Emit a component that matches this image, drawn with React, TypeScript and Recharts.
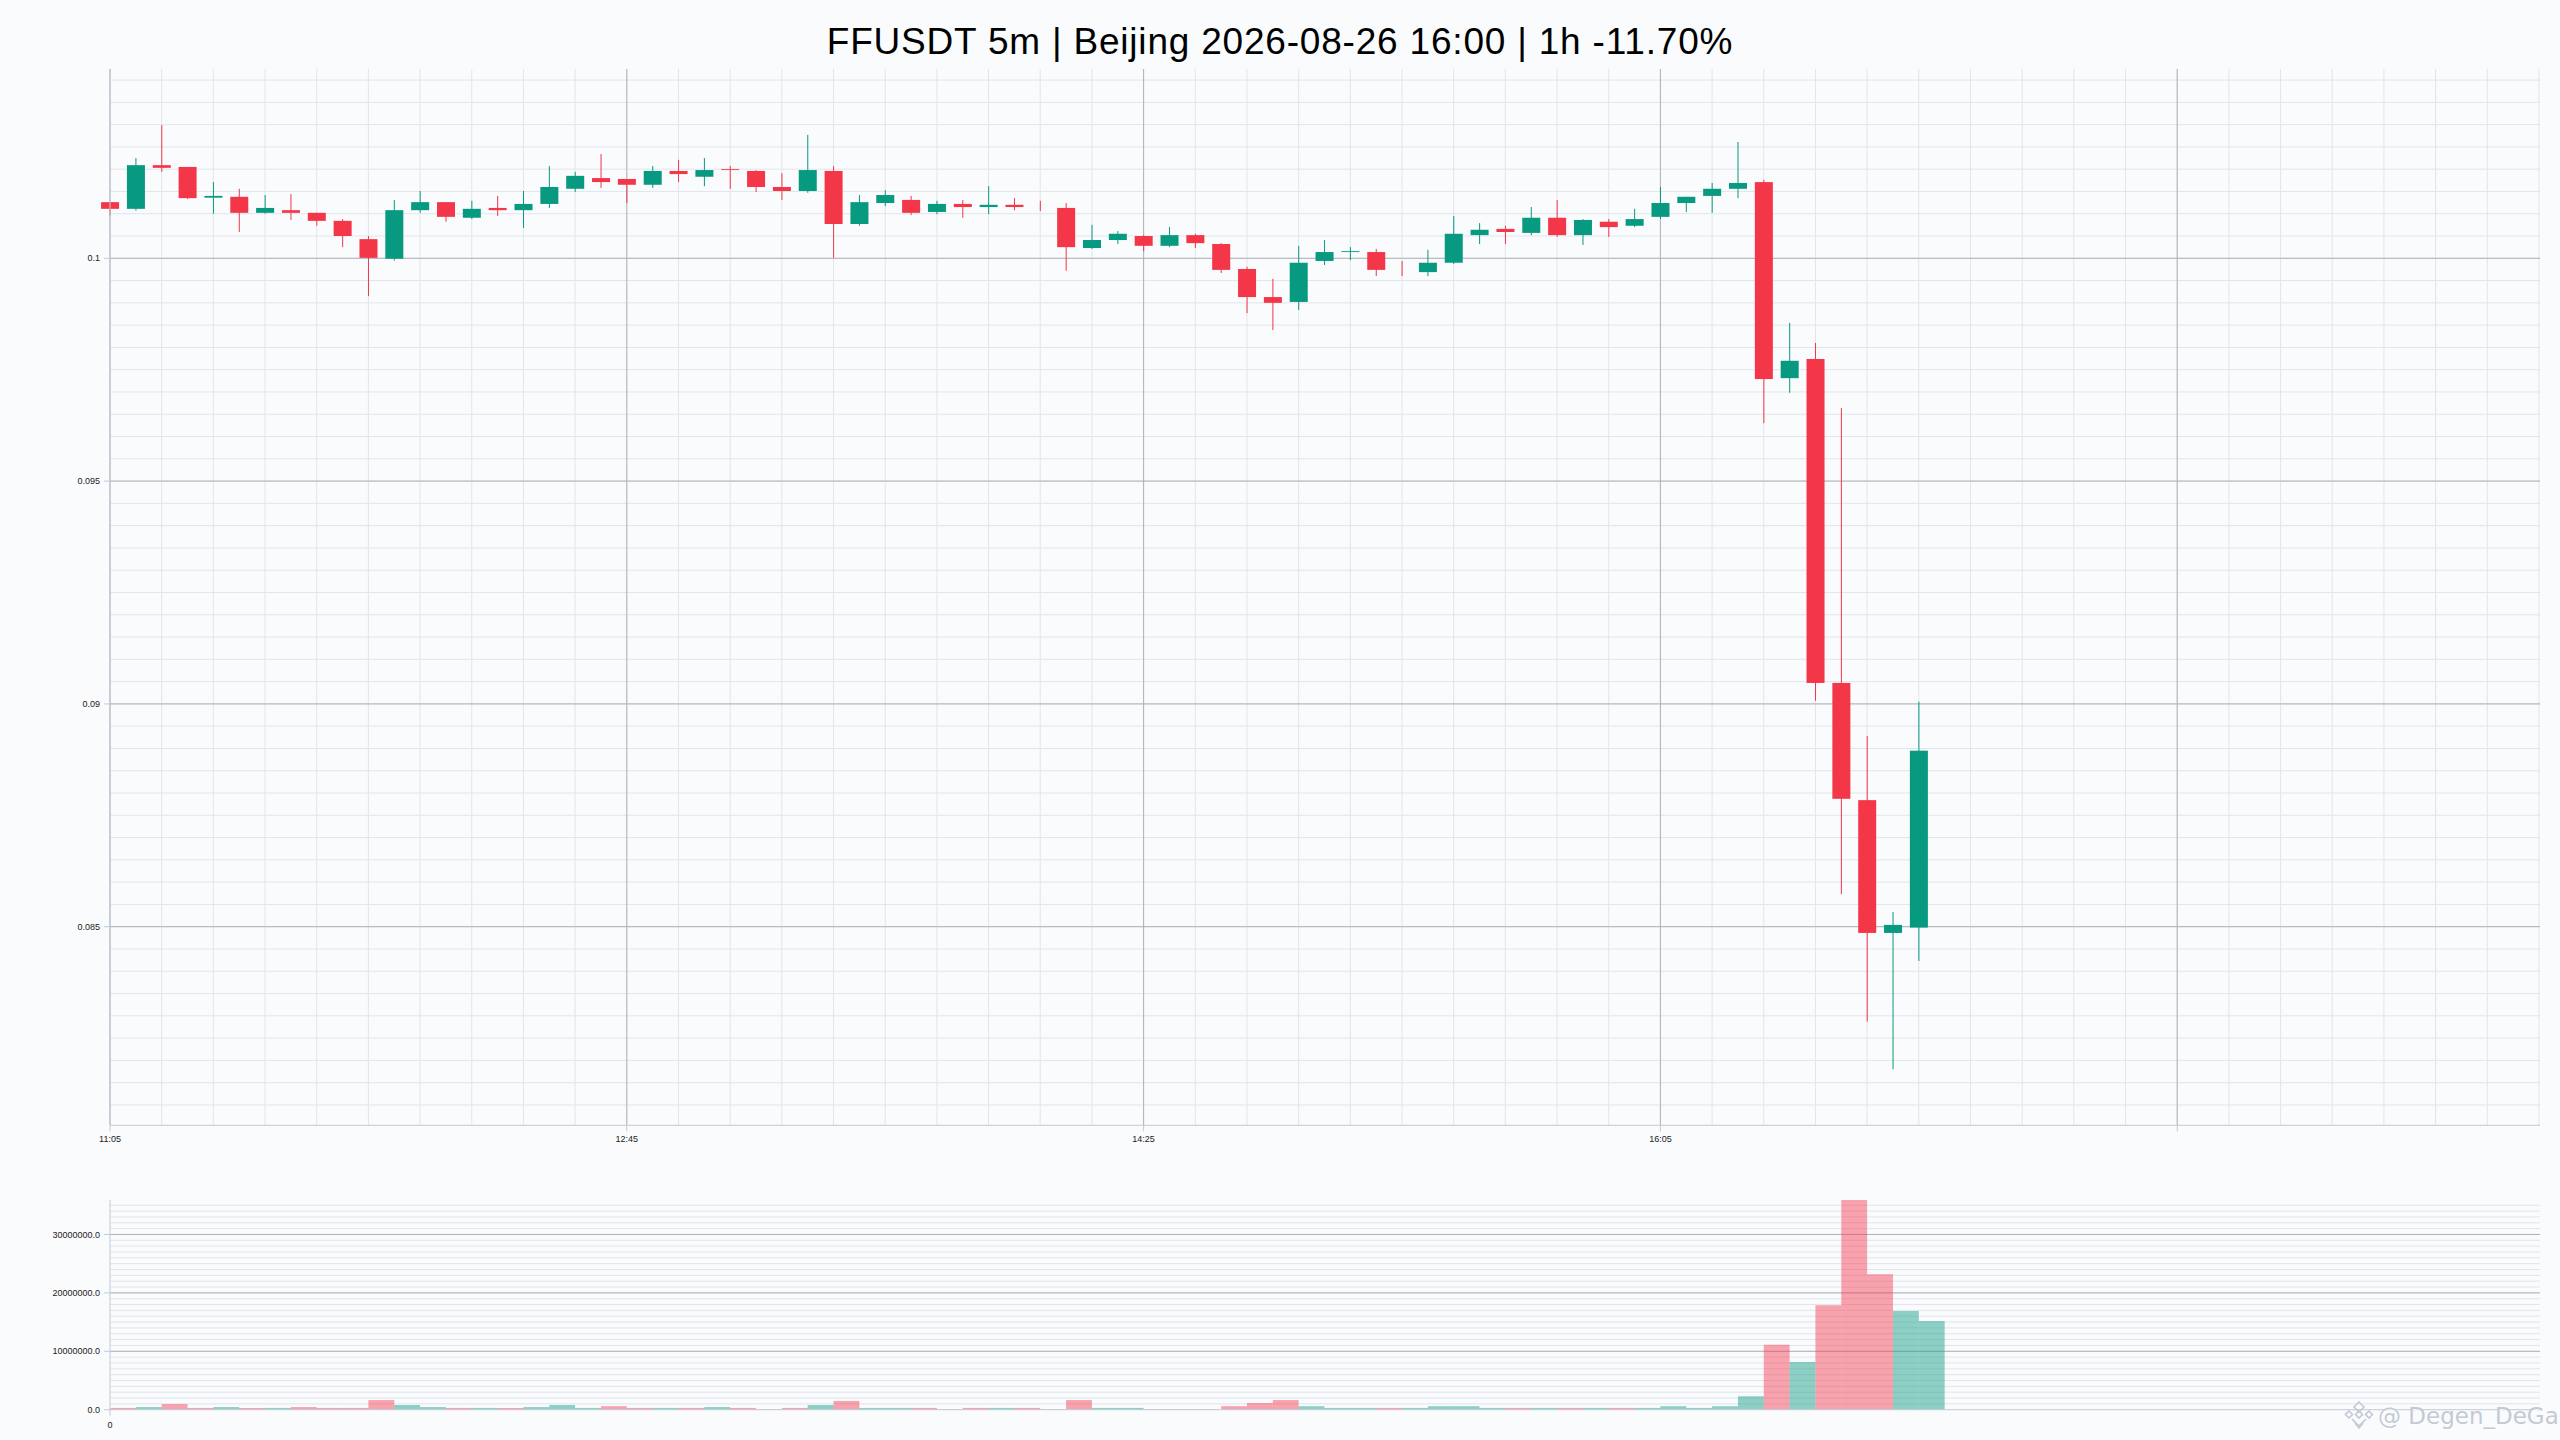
import { Bar, CartesianGrid, Cell, ComposedChart, XAxis, YAxis } from "recharts";

const TITLE = "FFUSDT 5m | Beijing 2026-08-26 16:00 | 1h -11.70%";
const FONT = "'Liberation Sans', Arial, sans-serif";

const UP = "#089981";
const DOWN = "#f43649";
const BG = "#f9fbfd";
const GRID_MINOR = "#e1e5ec";
const GRID_MAJOR = "#aeb2b9";
const AXIS = "#c3cbd6";
const MARK = "#c4cad4";

const opens = [
  0.10126, 0.10111, 0.10209, 0.10205, 0.10136, 0.10138, 0.10102, 0.10108, 0.10102, 0.10084,
  0.10043, 0.09999, 0.10108, 0.10126, 0.10091, 0.10113, 0.10108, 0.10122, 0.10156, 0.1018,
  0.10178, 0.10165, 0.10196, 0.10183, 0.102, 0.10196, 0.1016, 0.10151, 0.10196, 0.10077,
  0.10124, 0.10131, 0.10104, 0.10122, 0.10115, 0.1012, 0.10117, 0.10113, 0.10023, 0.10041,
  0.1005, 0.10028, 0.10052, 0.10032, 0.09976, 0.09913, 0.09902, 0.09994, 0.10014, 0.10014,
  0.09974, 0.09969, 0.0999, 0.10052, 0.10066, 0.10057, 0.10091, 0.10052, 0.10082, 0.10073,
  0.10093, 0.10124, 0.1014, 0.10156, 0.10171, 0.09731, 0.09774, 0.09047, 0.08784, 0.08486,
  0.08498,
];
const closes = [
  0.10111, 0.10209, 0.10203, 0.10135, 0.1014, 0.10102, 0.10113, 0.10102, 0.10084, 0.1005,
  0.10001, 0.10108, 0.10126, 0.10093, 0.10111, 0.10108, 0.10122, 0.1016, 0.10185, 0.10171,
  0.10165, 0.10196, 0.10189, 0.10198, 0.10198, 0.1016, 0.10151, 0.10198, 0.10077, 0.10126,
  0.10142, 0.10102, 0.10122, 0.10115, 0.1012, 0.10115, 0.10117, 0.10025, 0.10041, 0.10055,
  0.10028, 0.10052, 0.10034, 0.09974, 0.09913, 0.099, 0.0999, 0.10014, 0.10016, 0.09974,
  0.09974, 0.0999, 0.10055, 0.10064, 0.10059, 0.10091, 0.10052, 0.10086, 0.1007, 0.10088,
  0.10124, 0.10138, 0.10156, 0.10169, 0.09729, 0.0977, 0.09047, 0.08787, 0.08486, 0.08504,
  0.08895,
];
const highs = [
  0.10126, 0.10225, 0.10299, 0.10205, 0.10171, 0.10156, 0.10142, 0.10144, 0.10102, 0.10088,
  0.1005, 0.10131, 0.10151, 0.10126, 0.10129, 0.1014, 0.10151, 0.10207, 0.10194, 0.10234,
  0.10178, 0.10207, 0.10221, 0.10225, 0.10207, 0.10198, 0.10191, 0.10277, 0.10207, 0.10142,
  0.10153, 0.1014, 0.10129, 0.10131, 0.10162, 0.10135, 0.10129, 0.10124, 0.10075, 0.10061,
  0.10052, 0.1007, 0.10055, 0.10034, 0.09981, 0.09954, 0.10028, 0.10041, 0.10025, 0.10021,
  0.09994, 0.10019, 0.10095, 0.10079, 0.10073, 0.10115, 0.10131, 0.10088, 0.10088, 0.10111,
  0.1016, 0.10138, 0.10169, 0.10261, 0.10176, 0.09855, 0.0981, 0.09664, 0.08928, 0.08533,
  0.09005,
];
const lows = [
  0.10096, 0.10107, 0.10194, 0.10133, 0.101, 0.10059, 0.101, 0.10086, 0.10073, 0.10025,
  0.09915, 0.09995, 0.10102, 0.10082, 0.10088, 0.10095, 0.10068, 0.10113, 0.10149, 0.10158,
  0.10124, 0.10158, 0.10171, 0.10162, 0.10156, 0.10149, 0.10131, 0.10147, 0.10001, 0.10073,
  0.10117, 0.10097, 0.10099, 0.10091, 0.10099, 0.10108, 0.10106, 0.09972, 0.10021, 0.10032,
  0.10016, 0.10025, 0.10023, 0.09967, 0.09877, 0.09839, 0.09884, 0.09985, 0.09996, 0.0996,
  0.0996, 0.0996, 0.09987, 0.10032, 0.10032, 0.10052, 0.10048, 0.1003, 0.10048, 0.1007,
  0.10088, 0.10104, 0.10102, 0.10135, 0.0963, 0.09698, 0.09007, 0.08573, 0.08287, 0.0818,
  0.08423,
];
const volumes = [
  300000, 450000, 970000, 300000, 450000, 300000, 300000, 450000, 300000, 300000,
  1650000, 800000, 450000, 300000, 300000, 300000, 450000, 800000, 300000, 600000,
  300000, 300000, 300000, 450000, 300000, 80000, 300000, 800000, 1500000, 300000,
  300000, 300000, 80000, 300000, 300000, 300000, 80000, 1650000, 300000, 300000,
  80000, 80000, 80000, 600000, 1150000, 1650000, 600000, 300000, 300000, 300000,
  300000, 600000, 600000, 300000, 300000, 300000, 300000, 300000, 300000, 300000,
  600000, 300000, 600000, 2300000, 11100000, 8150000, 17900000, 35900000, 23200000, 16900000,
  15200000,
];

const timeLabels: Record<number, string> = { 0: "11:05", 20: "12:45", 40: "14:25", 60: "16:05" };

const priceTicks = [0.085, 0.09, 0.095, 0.1];
const priceDomain = [0.080543, 0.104248];
const priceMinor = Array.from({ length: 47 }, (_, i) => 0.081 + i * 0.0005);
const timeMajor = [0, 20, 40, 60, 80];
const timeMinor = Array.from({ length: 48 }, (_, i) => i * 2);
const lastSlot = 94.04;

const volumeTicks = [0, 10000000, 20000000, 30000000];
const volumeMinor = Array.from({ length: 35 }, (_, i) => (i + 1) * 1000000);

const candleRows = opens.map((open, i) => ({
  index: i,
  open,
  close: closes[i],
  high: highs[i],
  low: lows[i],
  range: [lows[i], highs[i]],
}));

// volume bars sit between a candle and the next one, not centred on it
const volumeRows = volumes.map((volume, i) => ({
  slot: i + 0.5,
  volume,
  up: closes[i] >= opens[i],
}));

function Candle(props: any) {
  const { x, y, width, height, payload } = props;
  const { open, close, high, low } = payload;
  const color = close > open ? UP : DOWN;
  const perUnit = height / (high - low);
  const bodyTop = y + (high - Math.max(open, close)) * perUnit;
  const bodyHeight = Math.abs(open - close) * perUnit;
  const center = x + width / 2;

  return (
    <g>
      <rect x={center - 0.5} y={y} width={1} height={height} fill={color} />
      {bodyHeight > 0 && <rect x={x} y={bodyTop} width={width} height={bodyHeight} fill={color} />}
    </g>
  );
}

function WatermarkIcon() {
  return (
    <svg width={30} height={30} viewBox="0 0 30 30" style={{ position: "absolute", left: 2344, top: 1400 }}>
      <g fill="none" stroke={MARK} strokeWidth={1.6}>
        <path d="M15 2 L20 7 L15 12 L10 7 Z" />
        <path d="M5 11 L8.5 14.5 L5 18 L1.5 14.5 Z" />
        <path d="M25 11 L28.5 14.5 L25 18 L21.5 14.5 Z" />
        <path d="M15 11 L18.5 14.5 L15 18 L11.5 14.5 Z" />
        <path d="M8 19 L15 26 L22 19" />
        <path d="M11 23 L15 28 L19 23" />
      </g>
    </svg>
  );
}

const tickStyle = { fontSize: 9, fill: "#222", fontFamily: FONT };

export default function App() {
  return (
    <div style={{ position: "absolute", left: 0, top: 0, width: 2560, height: 1440, background: BG, overflow: "hidden" }}>
      <div
        style={{
          position: "absolute",
          top: 17.5,
          width: 2560,
          textAlign: "center",
          fontFamily: FONT,
          fontSize: 37,
          letterSpacing: 0.8,
          lineHeight: "48px",
          color: "#000",
        }}
      >
        {TITLE}
      </div>

      <div style={{ position: "absolute", left: 0, top: 0 }}>
        <ComposedChart
          width={2560}
          height={1160}
          data={candleRows}
          margin={{ top: 69, right: 20, bottom: 0, left: 0 }}
        >
          <CartesianGrid stroke={GRID_MINOR} horizontalValues={priceMinor} verticalValues={timeMinor} />
          <CartesianGrid stroke={GRID_MAJOR} horizontalValues={priceTicks} verticalValues={timeMajor} />
          <XAxis
            dataKey="index"
            type="number"
            domain={[0, lastSlot]}
            ticks={timeMajor}
            interval={0}
            tickFormatter={(v: number) => timeLabels[v] ?? ""}
            tick={tickStyle}
            tickSize={6}
            tickMargin={4}
            stroke={AXIS}
            height={34.7}
          />
          <YAxis
            type="number"
            domain={priceDomain}
            ticks={priceTicks}
            interval={0}
            tick={tickStyle}
            tickSize={6}
            tickMargin={4}
            stroke={AXIS}
            width={110}
            allowDataOverflow
          />
          <Bar dataKey="range" barSize={18} shape={Candle} isAnimationActive={false} />
        </ComposedChart>
      </div>

      <div style={{ position: "absolute", left: 0, top: 1180 }}>
        <ComposedChart
          width={2560}
          height={260}
          data={volumeRows}
          margin={{ top: 20, right: 20, bottom: 0, left: 0 }}
        >
          <CartesianGrid stroke={GRID_MINOR} horizontalValues={volumeMinor} vertical={false} />
          <CartesianGrid stroke={GRID_MAJOR} horizontalValues={volumeTicks.slice(1)} vertical={false} />
          <XAxis
            dataKey="slot"
            type="number"
            domain={[0, lastSlot]}
            ticks={[0]}
            tick={tickStyle}
            tickSize={6}
            tickMargin={6}
            stroke={AXIS}
            height={30.3}
          />
          <YAxis
            type="number"
            domain={[0, 35900000]}
            ticks={volumeTicks}
            interval={0}
            tickFormatter={(v: number) => v.toFixed(1)}
            tick={tickStyle}
            tickSize={6}
            tickMargin={4}
            stroke={AXIS}
            width={110}
          />
          <Bar dataKey="volume" barSize={25.84} isAnimationActive={false}>
            {volumeRows.map((row) => (
              <Cell key={row.slot} fill={row.up ? UP : DOWN} fillOpacity={0.45} />
            ))}
          </Bar>
        </ComposedChart>
      </div>

      <WatermarkIcon />
      <div
        style={{
          position: "absolute",
          left: 2378,
          top: 1403,
          fontFamily: "'DejaVu Sans', sans-serif",
          fontSize: 23,
          color: MARK,
          textShadow: "1px 1px 0 rgba(255,255,255,0.8)",
          whiteSpace: "nowrap",
        }}
      >
        @ Degen_DeGa
      </div>
    </div>
  );
}
